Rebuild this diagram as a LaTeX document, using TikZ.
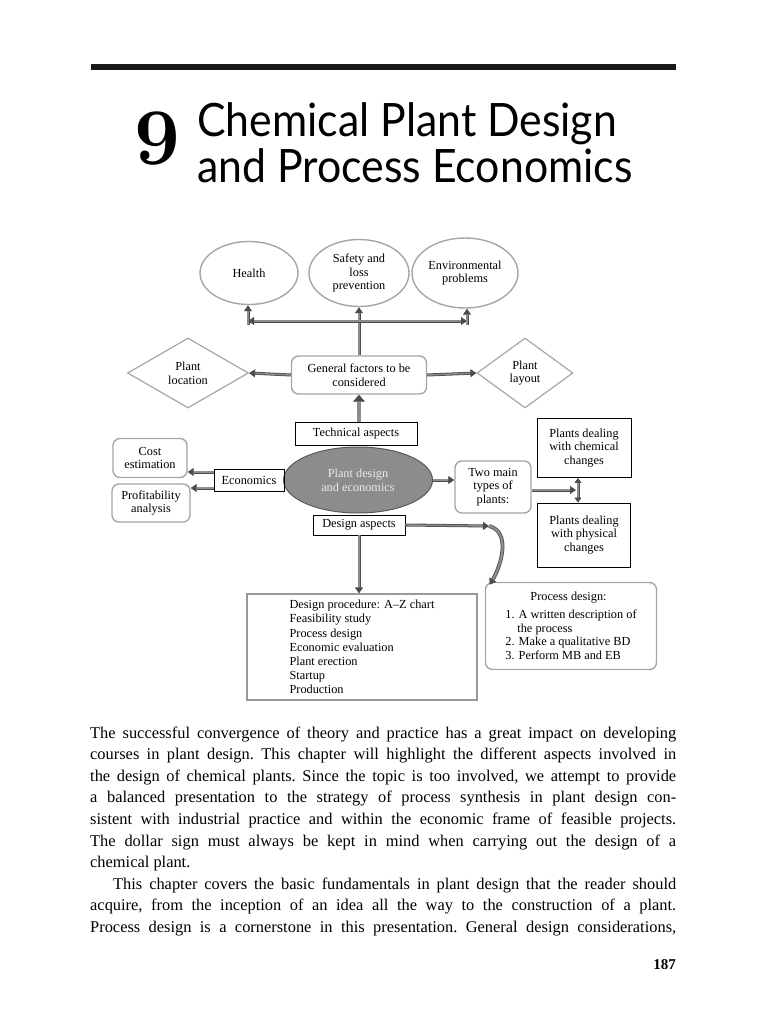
\documentclass[tikz,border=0pt]{standalone}
\usepackage{fontspec}
\setmainfont{Liberation Serif}
\newfontfamily\titlefont{Lato}
\usetikzlibrary{shapes.geometric, arrows.meta, positioning}

\begin{document}
\begin{tikzpicture}[
        x=1pt, y=-1pt,
        font=\fontsize{12.3}{13.6}\selectfont,
        >=Triangle,
        oval/.style={
            ellipse,
            draw=black!35,
            line width=1.4pt,
            inner sep=0pt,
            align=center
        },
        rbox/.style={
            rectangle,
            rounded corners=7pt,
            draw=black!35,
            line width=1.4pt,
            inner sep=0pt,
            align=center
        },
        bbox/.style={
            rectangle,
            draw=black,
            line width=0.9pt,
            inner sep=0pt,
            align=center
        },
        gbox/.style={
            rectangle,
            draw=black!40,
            line width=1.2pt,
            inner sep=0pt
        },
        dia/.style={
            diamond,
            draw=black!35,
            line width=1.2pt,
            inner sep=0pt,
            align=center
        },
        flow/.style={
            draw=black!70,
            double=black!45,
            double distance=1.4pt,
            line width=0.8pt,
            -{Triangle[length=6pt, width=8pt]}
        },
        fatflow/.style={
            flow,
            double distance=3.2pt,
            -{Triangle[length=7pt, width=12pt]}
        },
        headline/.style={
            anchor=base west,
            inner sep=0pt,
            xscale=0.93,
            font=\titlefont\fontsize{46}{46}\selectfont
        }
    ]

        \useasboundingbox (0,0) rectangle (768,1024);

        % chapter head
        \fill[black!90] (91,64) rectangle (676,70);
        \node[anchor=north west, inner sep=0pt, scale=3.2] (chapnum) at (134,112)
            {\fontencoding{OML}\fontfamily{cmm}\fontseries{b}\fontshape{it}\fontsize{24.88}{25}\selectfont 9};
        \node[headline] (titleA) at (197,137) {Chemical Plant Design};
        \node[headline] (titleB) at (197,183) {and Process Economics};

        % general factors
        \node[oval, minimum width=98, minimum height=63] (health) at (249,273) {Health};
        \node[oval, minimum width=100, minimum height=67] (safety) at (359,273) {Safety and\\loss\\prevention};
        \node[oval, minimum width=106, minimum height=70] (envir) at (465,273) {Environmental\\problems};

        \node[rbox, minimum width=135, minimum height=38] (general) at (359,375) {General factors to be\\considered};
        \node[dia, minimum width=121, minimum height=70] (location) at (188,373) {Plant\\location};
        \node[dia, minimum width=96, minimum height=70] (layout) at (525,373) {Plant\\layout};

        \coordinate (top) at (359,321);
        \coordinate (topL) at (248,321);
        \coordinate (topR) at (467,321);

        \draw[flow] (general.north) -- (safety.south);
        \draw[flow] (top) -- (topL);
        \draw[flow] (top) -- (topR);
        \draw[flow] ([yshift=-4pt]topL) -- (topL |- health.south);
        \draw[flow] ([yshift=-4pt]topR) -- (topR |- envir.south);
        \draw[flow] (general.west) -- (location.east);
        \draw[flow] (general.east) -- (layout.west);

        % centre
        \node[bbox, minimum width=122, minimum height=23] (tech) at (356,434) {Technical aspects};
        \node[ellipse, fill=black!45, draw=black!65, line width=1pt, inner sep=0pt, align=center,
              minimum width=149, minimum height=66, text=black!8] (pde) at (358,480) {Plant design\\and economics};
        \node[bbox, minimum width=70, minimum height=22] (econ) at (249,480) {Economics};
        \node[bbox, minimum width=92, minimum height=20] (design) at (359,525) {Design aspects};

        \draw[fatflow] (tech.north -| general.south) -- (general.south);

        % economics
        \node[rbox, minimum width=74, minimum height=39] (cost) at (150,458) {Cost\\estimation};
        \node[rbox, minimum width=78, minimum height=38] (profit) at (151,503) {Profitability\\analysis};
        \draw[flow] ([yshift=8pt]econ.west) -- ([yshift=8pt]econ.west -| cost.east);
        \draw[flow] ([yshift=-8pt]econ.west) -- ([yshift=-8pt]econ.west -| profit.east);

        % plant types
        \node[rbox, minimum width=76, minimum height=52] (twotypes) at (493,487) {Two main\\types of\\plants:};
        \node[bbox, minimum width=94, minimum height=59] (chem) at (584,448) {Plants dealing\\with chemical\\changes};
        \node[bbox, minimum width=93, minimum height=64] (phys) at (584,535) {Plants dealing\\with physical\\changes};
        \coordinate (split) at (578,490);
        \draw[flow] (pde.east) -- (pde.east -| twotypes.west);
        \draw[flow] (twotypes.east |- split) -- ([xshift=-2pt]split);
        \draw[flow, {Triangle[length=5pt, width=7pt]}-{Triangle[length=5pt, width=7pt]}] (split |- chem.south) -- (split |- phys.north);

        % design
        \node[gbox, minimum width=230, minimum height=106, align=left, font=\fontsize{12.3}{14.2}\selectfont] (proc) at (362,647)
            {Design procedure: A--Z chart\\Feasibility study\\Process design\\Economic evaluation\\Plant erection\\Startup\\Production};
        \node[rbox, minimum width=171, minimum height=87, align=left] (pdes) at (571,626)
            {\hspace*{25pt}Process design:\\[4pt]1. A written description of\\\hspace*{12pt}the process\\2. Make a qualitative BD\\3. Perform MB and EB};
        \draw[flow] (design.south) -- (design.south |- proc.north);
        \coordinate (bend) at (489,526);
        \draw[flow] (design.east) -- (bend);
        \draw[flow, double distance=2.2pt] (bend) to[out=-15, in=60] ([xshift=5pt, yshift=-3pt]pdes.north west);

        % running text
        \node[anchor=base west, inner sep=0pt] (body) at (90,738) {%
            \begin{minipage}[t]{586pt}\fontsize{16.4}{21.6}\selectfont\frenchspacing
            \makebox[\linewidth][s]{The successful convergence of theory and practice has a great impact on developing}\par
            \makebox[\linewidth][s]{courses in plant design. This chapter will highlight the different aspects involved in}\par
            \makebox[\linewidth][s]{the design of chemical plants. Since the topic is too involved, we attempt to provide}\par
            \makebox[\linewidth][s]{a balanced presentation to the strategy of process synthesis in plant design con-}\par
            \makebox[\linewidth][s]{sistent with industrial practice and within the economic frame of feasible projects.}\par
            \makebox[\linewidth][s]{The dollar sign must always be kept in mind when carrying out the design of a}\par
            chemical plant.\par
            \makebox[\linewidth][s]{\hspace*{23pt}This chapter covers the basic fundamentals in plant design that the reader should}\par
            \makebox[\linewidth][s]{acquire, from the inception of an idea all the way to the construction of a plant.}\par
            \makebox[\linewidth][s]{Process design is a cornerstone in this presentation. General design considerations,}\par
            \end{minipage}};

        \node[anchor=base east, inner sep=0pt, font=\bfseries\fontsize{15}{15}\selectfont] (pagenum) at (676,969) {187};

    \end{tikzpicture}
\end{document}
